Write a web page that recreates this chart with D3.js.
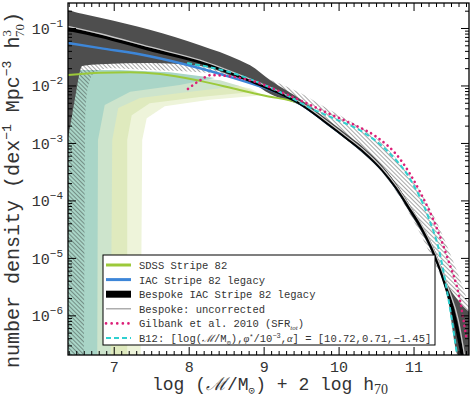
<!DOCTYPE html>
<html>
<head>
<meta charset="utf-8">
<script src="https://cdn.jsdelivr.net/npm/d3@7"></script>
<style>
  body { margin: 0; background: #fff; }
  text { font-family: "Liberation Mono", "DejaVu Sans Mono", monospace; fill: #333; }
</style>
</head>
<body>
<svg id="chart" width="474" height="397"></svg>
<script>
// ---- data (log10 stellar mass, log10 number density) ----
const xTicks = [7, 8, 9, 10, 11];
const yTicks = [-6, -5, -4, -3, -2, -1];

const bespokeM   = [6.39, 6.82, 7.48, 8.15, 8.82, 9.22, 9.49, 9.82, 10.15, 10.35, 10.59, 10.78, 10.95, 11.11, 11.26, 11.45, 11.57, 11.65];
const bespokePhi = [-1.02, -1.14, -1.37, -1.59, -1.91, -2.13, -2.31, -2.62, -2.95, -3.16, -3.47, -3.79, -4.14, -4.48, -4.87, -5.56, -6.17, -6.69];

const uncorrM   = [6.39, 6.82, 7.48, 8.15, 8.82, 9.22, 9.49, 9.82, 10.15, 10.35, 10.59, 10.78, 10.95, 11.11, 11.26, 11.45, 11.60, 11.68];
const uncorrPhi = [-0.97, -1.10, -1.33, -1.56, -1.89, -2.11, -2.29, -2.60, -2.93, -3.14, -3.45, -3.76, -4.10, -4.43, -4.82, -5.48, -6.10, -6.69];

const iacM   = [6.39, 6.82, 7.48, 8.15, 8.55, 8.82, 9.22, 9.49, 9.82, 10.15, 10.35, 10.59, 10.78, 10.95, 11.11, 11.26, 11.45, 11.57, 11.65];
const iacPhi = [-1.26, -1.35, -1.49, -1.70, -1.85, -1.96, -2.14, -2.32, -2.63, -2.96, -3.17, -3.48, -3.80, -4.15, -4.49, -4.88, -5.57, -6.18, -6.69];

const sdssM   = [6.39, 6.82, 7.22, 7.62, 8.15, 8.68, 9.02, 9.49, 9.82, 10.15, 10.35, 10.59, 10.78, 10.95, 11.11, 11.26, 11.45, 11.57, 11.65];
const sdssPhi = [-1.82, -1.78, -1.77, -1.80, -1.92, -2.08, -2.18, -2.32, -2.63, -2.96, -3.17, -3.48, -3.80, -4.15, -4.49, -4.88, -5.57, -6.18, -6.69];

const b12M   = [7.98, 8.55, 8.95, 9.35, 9.62, 9.95, 10.31, 10.65, 10.95, 11.2, 11.35, 11.45, 11.52, 11.58];
const b12Phi = [-1.61, -1.77, -1.96, -2.20, -2.39, -2.58, -2.80, -3.14, -3.62, -4.3, -4.92, -5.6, -6.15, -6.69];

const gilbankM   = [7.99, 8.14, 8.30, 8.82, 9.35, 9.89, 10.2, 10.49, 10.82, 11.09, 11.3, 11.45, 11.62, 11.71];
const gilbankPhi = [-2.06, -1.92, -1.82, -1.91, -2.18, -2.50, -2.68, -2.88, -3.28, -3.86, -4.45, -4.99, -5.74, -6.44];

// uncertainty bands: upper and lower edge at each mass
const bandM  = [6.39, 6.42, 6.48, 6.58, 6.82, 7.48, 8.15, 8.68, 8.82, 9.09, 9.49, 9.82, 10.15, 10.35, 10.59, 10.78, 10.95, 11.11, 11.26, 11.45, 11.6, 11.75];
const bandHi = [-0.69, -0.70, -0.72, -0.75, -0.82, -1.03, -1.30, -1.56, -1.65, -1.91, -2.24, -2.56, -2.89, -3.10, -3.41, -3.73, -4.08, -4.43, -4.81, -5.45, -5.75, -5.95];
const bandLo = [-2.9, -2.7, -2.25, -1.66, -1.63, -1.61, -1.66, -1.88, -1.94, -2.15, -2.35, -2.66, -2.99, -3.21, -3.52, -3.85, -4.21, -4.56, -4.95, -5.65, -6.7, -6.7];

const hatchM  = [6.39, 6.60, 6.62, 6.66, 6.75, 6.95, 7.48, 8.15, 8.82, 9.22, 9.49, 9.82, 10.15, 10.49, 10.82, 11.09, 11.3, 11.45, 11.6, 11.62, 11.75];
const hatchHi = [-0.86, -0.93, -0.94, -0.95, -0.98, -1.05, -1.30, -1.55, -1.77, -1.97, -2.13, -2.38, -2.62, -2.90, -3.35, -3.85, -4.35, -4.8, -5.3, -5.37, -5.85];
const hatchLo = [-6.7, -6.7, -2.52, -2.0, -1.77, -1.70, -1.73, -1.77, -1.91, -2.13, -2.31, -2.62, -2.95, -3.37, -3.95, -4.58, -5.15, -5.56, -6.3, -6.7, -6.7];

// completeness regions, outlines as [logM, logPhi]
const limit1 = [[6.39,-1.77],[7.18,-1.80],[8.15,-1.89],[8.82,-2.05],[8.99,-2.17],[8.28,-2.25],[7.68,-2.36],
  [7.44,-2.57],[7.38,-2.95],[7.36,-6.7],[6.39,-6.7]];
const limit2 = [[6.39,-1.77],[7.88,-1.85],[8.68,-2.01],[8.88,-2.11],[8.15,-2.20],[7.48,-2.31],[7.24,-2.52],
  [7.18,-2.95],[7.18,-6.7],[6.39,-6.7]];
const limit3 = [[6.39,-1.77],[7.62,-1.80],[8.42,-1.91],[8.68,-2.01],[8.02,-2.11],[7.35,-2.22],[7.06,-2.39],
  [6.98,-2.95],[6.96,-6.7],[6.39,-6.7]];
const limit4 = [[6.39,-1.73],[7.08,-1.73],[7.75,-1.77],[8.35,-1.87],[7.88,-1.99],[7.22,-2.11],[6.88,-2.34],
  [6.79,-2.95],[6.78,-6.7],[6.39,-6.7]];

// ---- layout ----
const plot = { left: 68, top: 3, right: 469, bottom: 355 };
const svg = d3.select('#chart');

const x = d3.scaleLinear().domain([6.39, 11.74]).range([plot.left, plot.right]);
const y = d3.scaleLog().domain([Math.pow(10, -6.69), Math.pow(10, -0.565)]).range([plot.bottom, plot.top]);
const py = v => y(Math.pow(10, v));

const zip = (a, b) => a.map((v, i) => [v, b[i]]);
const zip3 = (a, b, c) => a.map((v, i) => [v, b[i], c[i]]);
const curve = d3.line().x(d => x(d[0])).y(d => py(d[1])).curve(d3.curveMonotoneX);
const shape = d3.line().x(d => x(d[0])).y(d => py(d[1])).curve(d3.curveLinearClosed);
const band = d3.area().x(d => x(d[0])).y0(d => py(d[2])).y1(d => py(d[1])).curve(d3.curveMonotoneX);

const defs = svg.append('defs');
defs.append('clipPath').attr('id', 'clip')
  .append('rect')
  .attr('x', plot.left).attr('y', plot.top)
  .attr('width', plot.right - plot.left).attr('height', plot.bottom - plot.top);

const hatch = defs.append('pattern')
  .attr('id', 'hatch')
  .attr('patternUnits', 'userSpaceOnUse')
  .attr('width', 3).attr('height', 3)
  .attr('patternTransform', 'rotate(-45)');
hatch.append('line')
  .attr('x1', 0).attr('y1', 0).attr('x2', 0).attr('y2', 3)
  .attr('stroke', '#222').attr('stroke-width', 0.8);

const area = svg.append('g').attr('clip-path', 'url(#clip)');

// completeness regions, widest first
area.append('path').attr('d', shape(limit1)).attr('fill', '#eef4da');
area.append('path').attr('d', shape(limit2)).attr('fill', '#dfeabe');
area.append('path').attr('d', shape(limit3)).attr('fill', '#cde4cc');
area.append('path').attr('d', shape(limit4)).attr('fill', '#a9d5c7');

area.append('path').attr('d', band(zip3(hatchM, hatchHi, hatchLo))).attr('fill', 'url(#hatch)');
area.append('path').attr('d', band(zip3(bandM, bandHi, bandLo))).attr('fill', '#4e4e4e');

// lines
area.append('path').attr('d', curve(zip(sdssM, sdssPhi)))
  .attr('fill', 'none').attr('stroke', '#9cc93a').attr('stroke-width', 2);
area.append('path').attr('d', curve(zip(iacM, iacPhi)))
  .attr('fill', 'none').attr('stroke', '#3d86d8').attr('stroke-width', 2.5);
area.append('path').attr('d', curve(zip(bespokeM, bespokePhi)))
  .attr('fill', 'none').attr('stroke', '#000').attr('stroke-width', 3.5);
area.append('path').attr('d', curve(zip(uncorrM, uncorrPhi)))
  .attr('fill', 'none').attr('stroke', '#c8c8c8').attr('stroke-width', 1.3);
area.append('path').attr('d', curve(zip(b12M, b12Phi)))
  .attr('fill', 'none').attr('stroke', '#2fd0d0').attr('stroke-width', 2)
  .attr('stroke-dasharray', '5,3');
area.append('path').attr('d', curve(zip(gilbankM, gilbankPhi)))
  .attr('fill', 'none').attr('stroke', '#dc1f78').attr('stroke-width', 2.6)
  .attr('stroke-linecap', 'round').attr('stroke-dasharray', '0.1,5');

// ---- axes (inward ticks on all sides) ----
const xMinor = d3.range(64, 118).map(v => v / 10).filter(v => v % 1 !== 0);
const yMinor = [];
for (let e = -7; e <= -1; e++) for (let k = 2; k <= 9; k++) yMinor.push(k * Math.pow(10, e));
const yInDomain = yMinor.filter(v => v >= y.domain()[0] && v <= y.domain()[1]);
const yMajor = yTicks.map(e => Math.pow(10, e));

function axisStyle(g) {
  g.select('.domain').remove();
  g.selectAll('line').attr('stroke', '#000').attr('stroke-width', 1);
}

svg.append('g').attr('transform', `translate(0,${plot.bottom})`)
  .call(d3.axisBottom(x).tickValues(xTicks).tickSize(-8).tickPadding(6).tickFormat(d3.format('d')))
  .call(axisStyle)
  .call(g => g.selectAll('text').attr('font-size', 15).attr('font-family', 'Liberation Mono').attr('fill', '#333'));
svg.append('g').attr('transform', `translate(0,${plot.bottom})`)
  .call(d3.axisBottom(x).tickValues(xMinor).tickSize(-4).tickFormat(''))
  .call(axisStyle);
svg.append('g').attr('transform', `translate(0,${plot.top})`)
  .call(d3.axisTop(x).tickValues(xTicks).tickSize(-8).tickFormat(''))
  .call(axisStyle);
svg.append('g').attr('transform', `translate(0,${plot.top})`)
  .call(d3.axisTop(x).tickValues(xMinor).tickSize(-4).tickFormat(''))
  .call(axisStyle);

svg.append('g').attr('transform', `translate(${plot.left},0)`)
  .call(d3.axisLeft(y).tickValues(yMajor).tickSize(-8).tickFormat(''))
  .call(axisStyle);
svg.append('g').attr('transform', `translate(${plot.left},0)`)
  .call(d3.axisLeft(y).tickValues(yInDomain).tickSize(-4).tickFormat(''))
  .call(axisStyle);
svg.append('g').attr('transform', `translate(${plot.right},0)`)
  .call(d3.axisRight(y).tickValues(yMajor).tickSize(-8).tickFormat(''))
  .call(axisStyle);
svg.append('g').attr('transform', `translate(${plot.right},0)`)
  .call(d3.axisRight(y).tickValues(yInDomain).tickSize(-4).tickFormat(''))
  .call(axisStyle);

// y tick labels 10^n
const yLab = svg.append('g').selectAll('text').data(yTicks).join('text')
  .attr('x', plot.left - 5)
  .attr('y', d => py(d) + 6)
  .attr('text-anchor', 'end')
  .attr('font-size', 15);
yLab.append('tspan').text('10');
yLab.append('tspan').attr('dy', -7).attr('font-size', 11).text(d => '\u2212' + Math.abs(d));

svg.append('rect')
  .attr('x', plot.left).attr('y', plot.top)
  .attr('width', plot.right - plot.left).attr('height', plot.bottom - plot.top)
  .attr('fill', 'none').attr('stroke', '#000').attr('stroke-width', 1.3);

// axis titles
const xt = svg.append('text').attr('x', 270).attr('y', 390)
  .attr('text-anchor', 'middle').attr('font-size', 18);
xt.append('tspan').text('log (');
xt.append('tspan').attr('font-family', 'DejaVu Serif').attr('font-style', 'italic').text('\u2133');
xt.append('tspan').text('/M');
xt.append('tspan').attr('dy', 4).attr('font-size', 11).text('\u2299');
xt.append('tspan').attr('dy', -4).text(') + 2 log h');
xt.append('tspan').attr('dy', 4).attr('font-size', 14).attr('font-family', 'Liberation Serif').text('70');

const yt = svg.append('text')
  .attr('transform', 'translate(19,190) rotate(-90)')
  .attr('text-anchor', 'middle').attr('font-size', 20);
yt.append('tspan').text('number density (dex');
yt.append('tspan').attr('dy', -8).attr('font-size', 13).text('\u22121');
yt.append('tspan').attr('dy', 8).text(' Mpc');
yt.append('tspan').attr('dy', -8).attr('font-size', 13).text('\u22123');
yt.append('tspan').attr('dy', 8).text(' h');
yt.append('tspan').attr('dy', -8).attr('font-size', 13).attr('font-family', 'Liberation Serif').text('3');
yt.append('tspan').attr('dx', -7).attr('dy', 13).attr('font-size', 13).attr('font-family', 'Liberation Serif').text('70');
yt.append('tspan').attr('dy', -5).text(')');

// ---- legend ----
const legendItems = [
  { key: 'sdss', color: '#9cc93a', width: 3 },
  { key: 'iac', color: '#3d86d8', width: 3 },
  { key: 'bespoke', color: '#000', width: 7 },
  { key: 'uncorr', color: '#999', width: 1.2 },
  { key: 'gilbank', color: '#dc1f78', width: 2.6, dash: '0.1,5.5', cap: 'round' },
  { key: 'b12', color: '#2fd0d0', width: 2, dash: '5,3' }
];
const lg = svg.append('g');
lg.append('rect').attr('x', 103).attr('y', 255).attr('width', 332).attr('height', 90)
  .attr('fill', '#fff').attr('stroke', '#000').attr('stroke-width', 1);
const rows = lg.selectAll('g').data(legendItems).join('g')
  .attr('transform', (d, i) => `translate(0,${265 + i * 14.6})`);
rows.append('line').attr('x1', 106).attr('x2', 131).attr('y1', 0).attr('y2', 0)
  .attr('stroke', d => d.color).attr('stroke-width', d => d.width)
  .attr('stroke-dasharray', d => d.dash || null).attr('stroke-linecap', d => d.cap || 'butt');
const lt = rows.append('text').attr('x', 139).attr('y', 4).attr('font-size', 10.5).attr('fill', '#333');
lt.filter(d => d.key === 'sdss').text('SDSS Stripe 82');
lt.filter(d => d.key === 'iac').text('IAC Stripe 82 legacy');
lt.filter(d => d.key === 'bespoke').text('Bespoke IAC Stripe 82 legacy');
lt.filter(d => d.key === 'uncorr').text('Bespoke: uncorrected');
lt.filter(d => d.key === 'gilbank').each(function () {
  const t = d3.select(this);
  t.append('tspan').text('Gilbank et al. 2010 (SFR');
  t.append('tspan').attr('dy', 3).attr('font-size', 7).attr('font-style', 'italic')
    .attr('font-family', 'Liberation Serif').text('tot');
  t.append('tspan').attr('dy', -3).text(')');
});
lt.filter(d => d.key === 'b12').each(function () {
  const t = d3.select(this);
  t.append('tspan').text('B12: [log(');
  t.append('tspan').attr('font-family', 'DejaVu Serif').attr('font-style', 'italic').text('\u2133');
  t.append('tspan').text('/M');
  t.append('tspan').attr('dy', 3).attr('font-size', 7).text('\u2299');
  t.append('tspan').attr('dy', -3).text('),');
  t.append('tspan').attr('font-family', 'Liberation Serif').attr('font-style', 'italic').text('\u03c6');
  t.append('tspan').attr('dy', -3).attr('font-size', 7).text('*');
  t.append('tspan').attr('dy', 3).text('/10');
  t.append('tspan').attr('dy', -4).attr('font-size', 7).text('\u22123');
  t.append('tspan').attr('dy', 4).text(',');
  t.append('tspan').attr('font-family', 'Liberation Serif').attr('font-style', 'italic').text('\u03b1');
  t.append('tspan').text('] = [10.72,0.71,\u22121.45]');
});
</script>
</body>
</html>
